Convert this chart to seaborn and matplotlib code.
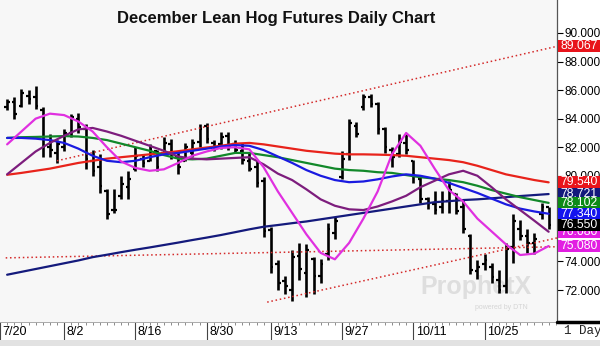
import matplotlib
matplotlib.use("Agg")
import matplotlib.pyplot as plt
import seaborn as sns
import numpy as np
from matplotlib.transforms import blended_transform_factory
from matplotlib.patches import Rectangle

sns.set_theme(style="white")
plt.rcParams['font.family'] = ['Liberation Sans', 'DejaVu Sans']

# ---------------- data ----------------
day_idx = list(range(1, 78))  # trading-day index (0 = 7/20)
opens = [84.8, 85.2, 84.9, 85.6, 85.5, 84.6, 82.0, 81.6, 82.0, 83.0,
         84.0, 83.3, 81.0, 80.6, 78.9, 77.6, 78.6, 79.2, 80.5, 81.2,
         81.0, 81.7, 81.6, 82.2, 81.3, 81.0, 81.6, 82.4, 83.5, 82.3,
         82.2, 82.8, 82.2, 81.7, 81.0, 80.6, 79.6, 76.2, 73.8, 72.6,
         72.0, 74.4, 73.2, 74.2, 73.0, 74.5, 76.0, 79.9, 81.5, 83.5,
         84.8, 85.5, 85.0, 83.3, 81.8, 81.5, 82.3, 81.0, 79.8, 78.4,
         78.0, 77.8, 78.2, 78.7, 77.8, 75.8, 73.3, 73.8, 73.6, 72.7,
         72.3, 75.0, 76.3, 75.8, 75.3, 77.3, 77.8]
highs = [85.4, 85.5, 86.1, 86.0, 86.3, 84.8, 82.9, 82.5, 83.3, 84.3,
         84.4, 83.6, 81.8, 81.5, 79.1, 79.1, 80.0, 80.3, 82.0, 81.5,
         82.2, 81.8, 82.7, 82.6, 81.7, 82.3, 82.6, 83.6, 83.7, 82.5,
         83.1, 83.1, 82.5, 82.3, 81.6, 81.1, 79.9, 76.4, 74.1, 73.0,
         74.8, 75.3, 75.2, 74.3, 74.2, 76.7, 77.1, 81.7, 84.0, 83.8,
         85.7, 85.7, 85.2, 83.4, 82.0, 82.9, 82.9, 81.1, 79.9, 78.5,
         78.9, 78.9, 79.6, 78.8, 78.3, 75.9, 74.1, 74.5, 73.9, 73.4,
         75.3, 77.3, 76.9, 76.3, 76.0, 78.1, 77.8]
lows = [84.6, 84.0, 84.8, 85.0, 84.7, 81.3, 81.3, 80.9, 81.7, 82.7,
        83.0, 80.5, 80.0, 78.8, 77.0, 77.4, 78.4, 78.4, 80.3, 80.6,
        81.0, 80.3, 81.5, 81.2, 80.1, 81.0, 81.3, 82.0, 82.3, 81.7,
        81.9, 81.8, 81.6, 80.8, 80.3, 79.2, 75.7, 73.2, 72.0, 71.7,
        71.2, 72.7, 71.5, 71.7, 72.5, 74.1, 75.6, 79.8, 81.1, 82.7,
        84.6, 84.8, 82.9, 81.6, 80.6, 81.3, 81.5, 79.5, 78.1, 77.7,
        77.3, 77.4, 77.4, 77.3, 76.0, 73.1, 72.8, 73.4, 72.5, 71.8,
        71.8, 73.9, 75.5, 74.6, 74.5, 77.0, 76.3]
closes = [85.2, 84.3, 85.8, 85.4, 84.9, 82.1, 81.8, 82.2, 83.0, 84.1,
          83.4, 81.2, 80.3, 79.3, 77.3, 77.6, 79.4, 79.8, 81.4, 80.9,
          81.9, 80.6, 82.3, 81.5, 80.6, 82.0, 82.3, 83.3, 82.6, 82.0,
          82.7, 82.0, 81.8, 81.1, 80.5, 79.5, 76.1, 73.6, 72.5, 72.3,
          74.3, 73.5, 74.8, 73.0, 73.8, 76.3, 76.8, 81.2, 83.7, 82.9,
          85.5, 85.0, 83.3, 82.0, 81.3, 82.4, 81.8, 80.0, 78.4, 78.1,
          77.6, 78.2, 79.0, 77.5, 76.3, 73.4, 73.6, 74.1, 72.9, 72.0,
          74.9, 76.8, 75.8, 75.3, 75.6, 77.8, 76.55]

ma_idx = list(range(1, 78, 2))
ma_navy = [73.07, 73.27, 73.47, 73.67, 73.87, 74.07, 74.3, 74.47, 74.65, 74.82,
           74.98, 75.15, 75.32, 75.5, 75.67, 75.85, 76.05, 76.25, 76.43, 76.55,
           76.68, 76.8, 76.95, 77.1, 77.25, 77.4, 77.55, 77.7, 77.85, 78.0,
           78.15, 78.22, 78.3, 78.35, 78.42, 78.5, 78.58, 78.65, 78.72]
ma_red = [80.07, 80.2, 80.35, 80.5, 80.7, 80.9, 81.05, 81.2, 81.3, 81.4,
          81.5, 81.6, 81.72, 81.85, 81.98, 82.1, 82.25, 82.3, 82.2, 82.05,
          81.9, 81.75, 81.65, 81.55, 81.5, 81.5, 81.48, 81.45, 81.4, 81.3,
          81.2, 81.1, 80.95, 80.7, 80.4, 80.1, 79.9, 79.7, 79.54]
ma_green = [82.65, 82.7, 82.72, 82.75, 82.78, 82.75, 82.65, 82.5, 82.25, 82.0,
            81.75, 81.45, 81.2, 81.15, 81.2, 81.4, 81.6, 81.6, 81.45, 81.3,
            81.1, 80.9, 80.7, 80.5, 80.4, 80.35, 80.25, 80.2, 80.05, 79.9,
            79.8, 79.7, 79.55, 79.3, 79.0, 78.75, 78.5, 78.3, 78.1]
ma_blue = [82.65, 82.65, 82.6, 82.5, 82.3, 81.9, 81.4, 81.05, 80.95, 81.05,
           81.3, 81.5, 81.6, 81.75, 81.9, 82.05, 82.15, 82.1, 81.8, 81.35,
           80.9, 80.4, 80.0, 79.7, 79.55, 79.6, 79.75, 79.95, 80.1, 80.0,
           79.8, 79.5, 79.15, 78.8, 78.4, 78.0, 77.7, 77.5, 77.34]
ma_purple = [80.1, 80.9, 81.7, 82.3, 82.8, 83.25, 83.35, 83.1, 82.8, 82.45,
             82.1, 81.75, 81.35, 81.2, 81.15, 81.2, 81.25, 81.3, 80.8, 80.15,
             79.7, 79.05, 78.35, 77.9, 77.65, 77.6, 77.85, 78.2, 78.6, 79.2,
             79.65, 80.1, 80.35, 80.0, 79.2, 78.35, 77.6, 76.85, 76.08]
ma_magenta = [82.2, 83.1, 84.0, 84.35, 84.25, 83.8, 83.1, 82.0, 81.0, 80.55,
              80.35, 80.45, 80.9, 81.4, 81.7, 81.95, 82.0, 81.85, 80.6, 78.9,
              77.4, 75.9, 74.6, 74.15, 75.3, 77.0, 78.9, 81.5, 83.0, 82.1,
              80.5, 79.0, 78.2, 77.0, 76.1, 75.2, 74.45, 74.55, 75.08]

tick_idx = [0, 9, 19, 29, 38, 48, 58, 68]
tick_labels = ["7/20", "8/2", "8/16", "8/30", "9/13", "9/27", "10/11", "10/25"]
price_ticks = [72, 74, 76, 78, 80, 82, 84, 86, 88, 90]

trend_upper_x = [8.0, 78.2]
trend_upper_y = [81.05, 89.07]
trend_lower_x = [37.5, 78.2]
trend_lower_y = [71.15, 75.65]
trend_flat_x = [0.8, 78.2]
trend_flat_y = [74.25, 75.03]

tag_values = [89.067, 78.721, 79.540, 78.102, 77.340, 76.080, 76.550, 75.080]
tag_colors = ['#e8141b', '#141a7c', '#e8141b', '#0d8a17', '#1414ee', '#e21ee2', '#000000', '#e21ee2']

title = "December Lean Hog Futures Daily Chart"

# ---------------- figure ----------------
fig = plt.figure(figsize=(6, 3.46), dpi=100, facecolor='white')
ax = fig.add_axes([0, 0.0694, 0.9283, 0.9306])
ax.set_facecolor('#f7f7f7')

# OHLC bars
tk = 0.38
ax.vlines(day_idx, lows, highs, color='black', lw=1.9, zorder=2)
ax.hlines(opens, np.array(day_idx) - tk, day_idx, color='black', lw=1.6, zorder=2)
ax.hlines(closes, day_idx, np.array(day_idx) + tk, color='black', lw=1.6, zorder=2)

# trend lines (dotted)
dot = (0, (1.0, 1.8))
for xs, ys in [(trend_upper_x, trend_upper_y), (trend_lower_x, trend_lower_y),
               (trend_flat_x, trend_flat_y)]:
    ax.plot(xs, ys, color='#d42a2a', lw=1.1, linestyle=dot, zorder=3)

# moving averages
for vals, col in [(ma_navy, '#141a7c'), (ma_red, '#e8231b'), (ma_green, '#12882a'),
                  (ma_blue, '#1a1ae0'), (ma_purple, '#7d1d7d'), (ma_magenta, '#e030e0')]:
    sns.lineplot(x=ma_idx, y=vals, ax=ax, color=col, lw=1.6, estimator=None,
                 sort=False, zorder=4)

ax.set_xlim(0.806, 78.17)
ax.set_ylim(69.76, 92.31)

# right price axis
ax.yaxis.tick_right()
ax.set_yticks(price_ticks)
ax.set_yticklabels([f"{v:.3f}" for v in price_ticks])
ax.tick_params(axis='y', which='major', direction='out', length=4, width=0.8,
               color='black', pad=1.5, labelsize=8.5, labelcolor='black', right=True, left=False)
ax.set_ylabel('')

# x axis
ax.set_xticks(tick_idx)
ax.set_xticklabels([''] * len(tick_idx))
ax.set_xticks(list(range(0, 79)), minor=True)
ax.tick_params(axis='x', which='major', direction='out', length=13, width=0.8,
               color='#444444', bottom=True)
ax.tick_params(axis='x', which='minor', direction='out', length=2.5, width=0.6,
               color='#777777', bottom=True)
ax.set_xlabel('')
xtr = blended_transform_factory(ax.transData, ax.transAxes)
for i, lab in zip(tick_idx, tick_labels):
    ax.text(i + 0.35, -0.012, lab, transform=xtr, ha='left', va='top',
            fontsize=9, color='black', clip_on=False)

for s in ['top', 'left']:
    ax.spines[s].set_visible(False)
ax.spines['right'].set_color('#555555')
ax.spines['right'].set_linewidth(0.9)
ax.spines['bottom'].set_color('#aaaaaa')
ax.spines['bottom'].set_linewidth(0.7)

# title
ax.text(0.4955, 0.944, title, transform=ax.transAxes, ha='center', va='center',
        fontsize=12, fontweight='bold', color='#111111')

# watermark
ax.text(0.855, 0.11, "ProphetX", transform=ax.transAxes, ha='center', va='center',
        fontsize=18, fontweight='bold', color='#dedede', zorder=1)
ax.text(0.9, 0.045, "powered by DTN", transform=ax.transAxes, ha='center', va='center',
        fontsize=5, color='#d5d5d5', zorder=1)

# value tags on right
ytr = blended_transform_factory(ax.transAxes, ax.transData)
for k, (v, c) in enumerate(zip(tag_values, tag_colors)):
    ax.add_patch(Rectangle((1.002, v - 0.42), 0.08, 0.84, transform=ytr, fc=c, ec='none',
                           clip_on=False, zorder=10 + 2 * k))
    ax.text(1.0735, v, f"{v:.3f}", transform=ytr, ha='right', va='center', fontsize=8.8,
            color='white', clip_on=False, zorder=11 + 2 * k)

# bottom-right separator, period label, bottom strip
fig.add_artist(plt.Line2D([0.9283, 1.0], [0.0694, 0.0694], transform=fig.transFigure,
                          color='black', lw=2.5))
fig.text(0.94, 0.042, "1 Day", family=['Liberation Mono', 'DejaVu Sans Mono'],
         fontsize=9, ha='left', va='center', color='#222222')
fig.add_artist(Rectangle((0, 0), 1, 0.017, transform=fig.transFigure, fc='#e2e2e2', ec='none'))

fig.savefig("out.png", dpi=100, facecolor='white')
